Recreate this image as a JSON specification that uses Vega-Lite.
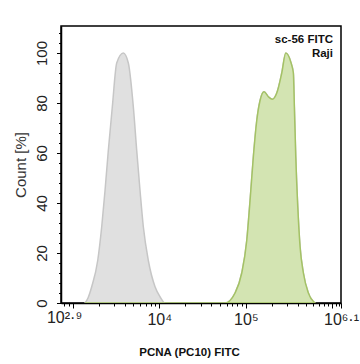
{
  "$schema": "https://vega.github.io/schema/vega-lite/v6.json",
  "width": 280,
  "height": 277,
  "autosize": "none",
  "padding": {"left": 61, "top": 26, "right": 19, "bottom": 61},
  "background": "white",
  "config": {
    "view": {"stroke": "#000", "strokeWidth": 1.5},
    "font": "Liberation Sans",
    "axis": {"grid": false, "domainColor": "#000", "domainWidth": 1.5, "tickColor": "#000", "tickWidth": 1, "labelFont": "Liberation Sans", "titleFont": "Liberation Sans", "labelFlush": false, "labelOverlap": false}
  },
  "layer": [
    {
      "data": {"values": [
        {"sample": "Control", "intensity": 1385, "count": 0},
        {"sample": "Control", "intensity": 1500, "count": 2},
        {"sample": "Control", "intensity": 1655, "count": 6.5},
        {"sample": "Control", "intensity": 1942, "count": 17},
        {"sample": "Control", "intensity": 2160, "count": 30.5},
        {"sample": "Control", "intensity": 2359, "count": 45},
        {"sample": "Control", "intensity": 2575, "count": 61},
        {"sample": "Control", "intensity": 2865, "count": 78.5},
        {"sample": "Control", "intensity": 3220, "count": 96},
        {"sample": "Control", "intensity": 3839, "count": 100},
        {"sample": "Control", "intensity": 4385, "count": 96},
        {"sample": "Control", "intensity": 5010, "count": 78.5},
        {"sample": "Control", "intensity": 5484, "count": 61},
        {"sample": "Control", "intensity": 5988, "count": 45},
        {"sample": "Control", "intensity": 6538, "count": 30.5},
        {"sample": "Control", "intensity": 7468, "count": 17},
        {"sample": "Control", "intensity": 8927, "count": 6.5},
        {"sample": "Control", "intensity": 10197, "count": 2.5},
        {"sample": "Control", "intensity": 11650, "count": 0},
        {"sample": "sc-56 FITC", "intensity": 57544, "count": 0},
        {"sample": "sc-56 FITC", "intensity": 75080, "count": 4},
        {"sample": "sc-56 FITC", "intensity": 89743, "count": 12},
        {"sample": "sc-56 FITC", "intensity": 102520, "count": 25},
        {"sample": "sc-56 FITC", "intensity": 111940, "count": 41},
        {"sample": "sc-56 FITC", "intensity": 122180, "count": 58.5},
        {"sample": "sc-56 FITC", "intensity": 133810, "count": 73},
        {"sample": "sc-56 FITC", "intensity": 146100, "count": 81},
        {"sample": "sc-56 FITC", "intensity": 162480, "count": 84.5},
        {"sample": "sc-56 FITC", "intensity": 182220, "count": 82.5},
        {"sample": "sc-56 FITC", "intensity": 202680, "count": 81.5},
        {"sample": "sc-56 FITC", "intensity": 227870, "count": 84},
        {"sample": "sc-56 FITC", "intensity": 260250, "count": 92},
        {"sample": "sc-56 FITC", "intensity": 289500, "count": 100},
        {"sample": "sc-56 FITC", "intensity": 333430, "count": 96},
        {"sample": "sc-56 FITC", "intensity": 354370, "count": 92},
        {"sample": "sc-56 FITC", "intensity": 363970, "count": 78.5},
        {"sample": "sc-56 FITC", "intensity": 377800, "count": 58.5},
        {"sample": "sc-56 FITC", "intensity": 398470, "count": 38.5},
        {"sample": "sc-56 FITC", "intensity": 423640, "count": 22.5},
        {"sample": "sc-56 FITC", "intensity": 462670, "count": 12},
        {"sample": "sc-56 FITC", "intensity": 528450, "count": 4},
        {"sample": "sc-56 FITC", "intensity": 631540, "count": 0}
      ]},
      "mark": {"type": "area", "interpolate": "monotone", "strokeWidth": 1.5, "clip": true},
      "encoding": {
        "x": {
          "field": "intensity", "type": "quantitative",
          "scale": {"type": "log", "domain": [731, 1258925], "nice": false},
          "axis": {
            "values": [794.33, 900, 1000, 2000, 3000, 4000, 5000, 6000, 7000, 8000, 9000, 10000, 20000, 30000, 40000, 50000, 60000, 70000, 80000, 90000, 100000, 200000, 300000, 400000, 500000, 600000, 700000, 800000, 900000, 1000000, 1100000, 1200000, 1258925],
            "tickCount": 100,
            "labelExpr": "datum.value < 800 ? '10²·⁹' : datum.value > 1250000 ? '10⁶·¹' : datum.value == 10000 ? '10⁴' : datum.value == 100000 ? '10⁵' : ''",
            "tickSize": {"condition": {"test": "datum.value == 1000 || datum.value == 10000 || datum.value == 100000 || datum.value == 1000000 || datum.value > 1250000", "value": 5}, "value": 3},
            "labelFontSize": 16,
            "labelColor": "#222",
            "labelPadding": 3,
            "title": "PCNA (PC10) FITC",
            "titleFontSize": 11.5,
            "titleFontWeight": "bold",
            "titleColor": "#111",
            "titleX": 128,
            "titleY": 52,
            "titleBaseline": "alphabetic"
          }
        },
        "y": {
          "field": "count", "type": "quantitative",
          "scale": {"domain": [0, 110.8], "nice": false},
          "axis": {
            "values": [0, 4, 8, 12, 16, 20, 24, 28, 32, 36, 40, 44, 48, 52, 56, 60, 64, 68, 72, 76, 80, 84, 88, 92, 96, 100, 104, 108],
            "tickCount": 100,
            "labelExpr": "datum.value % 20 === 0 ? datum.label : ''",
            "tickSize": {"condition": {"test": "datum.value % 20 === 0", "value": 4.5}, "value": 2.5},
            "labelAngle": 270,
            "labelAlign": "center",
            "labelBaseline": "bottom",
            "labelFontSize": 15,
            "labelColor": "#222",
            "labelPadding": 7,
            "title": "Count [%]",
            "titleFontSize": 15,
            "titleFontWeight": "normal",
            "titleColor": "#333",
            "titleX": -41,
            "titleY": 138.5,
            "titleBaseline": "middle",
            "titleAlign": "center"
          }
        },
        "fill": {"field": "sample", "type": "nominal", "scale": {"domain": ["Control", "sc-56 FITC"], "range": ["#e0e0e0", "#d3e4b2"]}, "legend": null},
        "stroke": {"field": "sample", "type": "nominal", "scale": {"domain": ["Control", "sc-56 FITC"], "range": ["#c6c6c6", "#a4c265"]}, "legend": null}
      }
    },
    {
      "data": {"values": [{}]},
      "mark": {"type": "text", "align": "right", "dx": -8, "font": "Liberation Sans", "fontWeight": "bold", "fontSize": 11.5, "lineBreak": "\n", "lineHeight": 13.5, "baseline": "alphabetic", "color": "#111"},
      "encoding": {
        "x": {"datum": 1258925},
        "y": {"datum": 104},
        "text": {"value": "sc-56 FITC\nRaji"}
      }
    }
  ]
}
